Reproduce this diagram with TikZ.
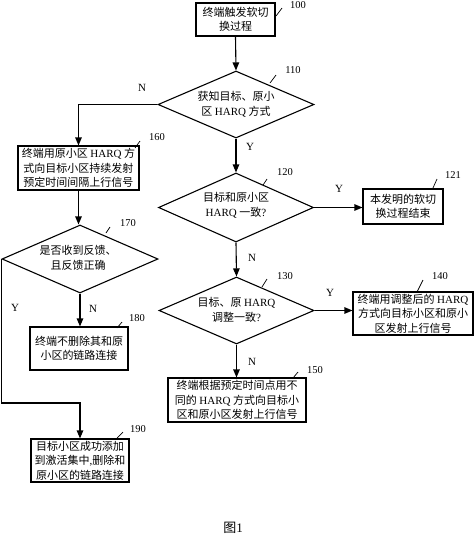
\documentclass[tikz,border=0pt]{standalone}
\usepackage{fontspec}
\setmainfont{Liberation Serif}
\newfontfamily\cjk{Noto Sans CJK SC}
\usetikzlibrary{arrows.meta,shapes.geometric}
\newcommand\harq{{\rmfamily HARQ}}
\begin{document}
\begin{tikzpicture}[x=1pt,y=-1pt,
  box/.style={draw, line width=1.1pt, inner sep=0pt, align=center, font=\cjk\fontsize{11}{14.5}\selectfont},
  dia/.style={draw, diamond, line width=1.1pt, inner sep=0pt},
  txt/.style={align=center, inner sep=0pt, font=\cjk\fontsize{11}{15}\selectfont},
  arr/.style={line width=1.1pt, -{Triangle[length=8pt,width=6.5pt]}},
  lead/.style={line width=0.7pt},
  num/.style={font=\fontsize{10.5}{12}\selectfont, inner sep=0pt},
  yn/.style={font=\fontsize{11}{12}\selectfont, inner sep=0pt}]
\useasboundingbox (0,0) rectangle (474,536);

% boxes
\node[box, minimum width=79pt, minimum height=33pt] (b100) at (235.5,19.5) {终端触发软切\\换过程};
\node[box, minimum width=121pt, minimum height=44pt] (b160) at (78.5,168) {终端用原小区 \harq{} 方\\式向目标小区持续发射\\预定时间间隔上行信号};
\node[box, minimum width=80pt, minimum height=35pt] (b121) at (403,206.5) {本发明的软切\\换过程结束};
\node[box, minimum width=120pt, minimum height=43pt] (b140) at (413,313.5) {终端用调整后的 \harq\\方式向目标小区和原小\\区发射上行信号};
\node[box, minimum width=98pt, minimum height=43pt] (b180) at (79,348.5) {终端不删除其和原\\小区的链路连接};
\node[box, minimum width=138pt, minimum height=44pt] (b150) at (237,400) {终端根据预定时间点用不\\同的 \harq{} 方式向目标小\\区和原小区发射上行信号};
\node[box, minimum width=98pt, minimum height=43pt] (b190) at (80,460.5) {目标小区成功添加\\到激活集中{\rmfamily ,}删除和\\原小区的链路连接};

% diamonds
\node[dia, minimum width=156pt, minimum height=67pt] (d110) at (236,104.5) {};
\node[txt] (t110) at (236,104) {获知目标、原小\\区 \harq{} 方式};
\node[dia, minimum width=155pt, minimum height=69pt] (d120) at (236,207.5) {};
\node[txt] (t120) at (236,205) {目标和原小区\\\harq{} 一致{\rmfamily ?}};
\node[dia, minimum width=155pt, minimum height=67pt] (d130) at (236.5,310.5) {};
\node[txt] (t130) at (236.5,309.5) {目标、原 \harq\\调整一致{\rmfamily ?}};
\node[dia, minimum width=156pt, minimum height=68pt] (d170) at (80,259) {};
\node[txt] (t170) at (78,257.5) {是否收到反馈、\\且反馈正确};

% connectors
\draw[arr] (b100.south) -- (d110.north);
\draw[arr] (d110.west) -| (b160.north);
\draw[arr] (d110.south) -- (d120.north);
\draw[arr] (d120.east) -- (b121.west |- d120.east);
\draw[arr] (d120.south) -- (d130.north);
\draw[arr] (d130.east) -- (b140.west |- d130.east);
\draw[arr] (d130.south) -- (b150.north -| d130.south);
\draw[arr] (b160.south) -- (d170.north -| b160.south);
\draw[arr] (d170.south) -- (b180.north -| d170.south);
\coordinate (c190) at (80,403);
\draw[arr] (d170.west) |- (c190) -- (b190.north);

% Y/N labels
\node[yn] (n1) at (142,88) {N};
\node[yn] (y1) at (250,147) {Y};
\node[yn] (y2) at (339,189) {Y};
\node[yn] (n2) at (252,258) {N};
\node[yn] (y3) at (330,293) {Y};
\node[yn] (n3) at (252,362) {N};
\node[yn] (y4) at (15,308) {Y};
\node[yn] (n4) at (93,309) {N};

% reference numbers
\node[num] (l100) at (298,5) {100};
\draw[lead] (276,16) -- (282,8);
\node[num] (l110) at (293,70) {110};
\draw[lead] (270,83) -- (276,75);
\node[num] (l160) at (157,137) {160};
\draw[lead] (135,148) -- (140,141);
\node[num] (l120) at (285,172) {120};
\draw[lead] (263,185) -- (267,179);
\node[num] (l121) at (453,175) {121};
\draw[lead] (433,188) -- (437,179);
\node[num] (l170) at (128,223) {170};
\draw[lead] (106,233) -- (110,227);
\node[num] (l130) at (285,276) {130};
\draw[lead] (262,287) -- (267,279);
\node[num] (l140) at (440,276) {140};
\draw[lead] (417,292) -- (423,280);
\node[num] (l180) at (137,318) {180};
\draw[lead] (117,328) -- (122,322);
\node[num] (l150) at (315,370) {150};
\draw[lead] (293,378) -- (298,372);
\node[num] (l190) at (138,429) {190};
\draw[lead] (117,438) -- (123,432);

% caption
\node[font=\cjk\fontsize{13}{14}\selectfont, inner sep=0pt] (cap) at (233,528) {图{\rmfamily 1}};
\end{tikzpicture}
\end{document}
